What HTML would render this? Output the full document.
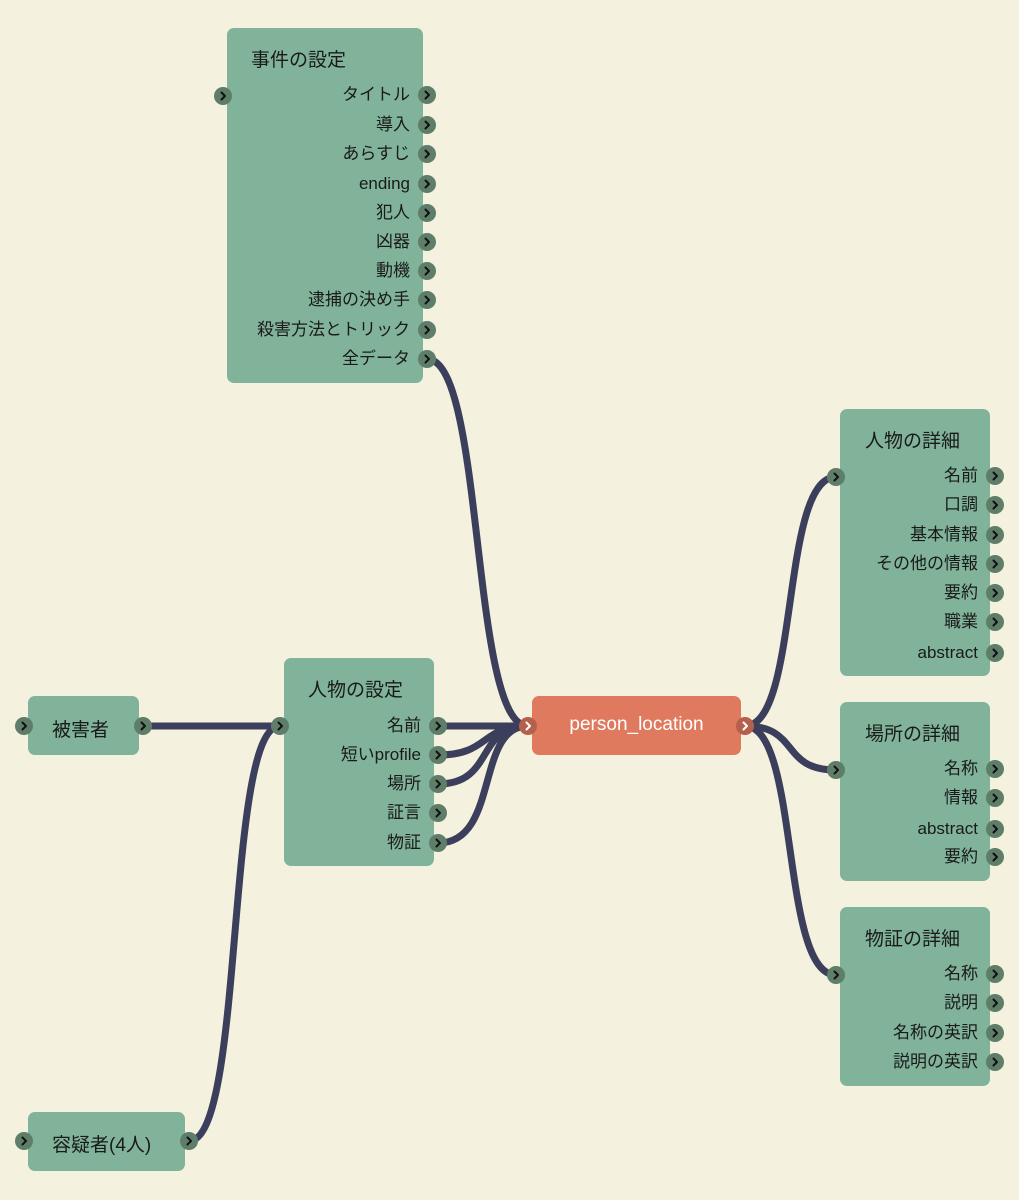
<!DOCTYPE html>
<html><head><meta charset="utf-8"><style>
body{margin:0;width:1019px;height:1200px;background:#f4f1df;position:relative;overflow:hidden;font-family:"Liberation Sans","Noto Sans CJK JP",sans-serif;color:#1a1a1a}
.n{position:absolute;background:#80b39a;border-radius:7px}
.t{position:absolute;font-size:19px}
.l{position:absolute;font-size:17px;text-align:right;white-space:nowrap;line-height:20px}
.p{position:absolute;width:18px;height:18px;border-radius:50%;background:#5e7e6a;z-index:3}
.p svg{position:absolute;left:0;top:0}
.p.o{background:#b5604c}
svg.e{position:absolute;left:0;top:0;z-index:2}
</style></head><body>
<div class="n" style="left:227px;top:28px;width:196px;height:355px"></div>
<div class="n" style="left:840px;top:409px;width:150px;height:267px"></div>
<div class="n" style="left:840px;top:702px;width:150px;height:179px"></div>
<div class="n" style="left:840px;top:907px;width:150px;height:179px"></div>
<div class="n" style="left:284px;top:658px;width:150px;height:208px"></div>
<div class="n" style="left:532px;top:696px;width:209px;height:59px;background:#e07a5f"></div>
<div class="n" style="left:28px;top:696px;width:111px;height:59px"></div>
<div class="n" style="left:28px;top:1112px;width:157px;height:59px"></div>
<svg class="e" width="1019" height="1200"><g fill="none" stroke="#3c3f5c" stroke-width="7" stroke-linecap="round">
<path d="M427 359 C485 359 470 726 528 726"/>
<path d="M143 726 L280 726"/>
<path d="M189 1141 C245 1141 225 726 280 726"/>
<path d="M438 726 L528 726"/>
<path d="M438 755 C490 755 480 726 528 726"/>
<path d="M438 784 C495 784 475 726 528 726"/>
<path d="M438 843 C500 843 475 726 528 726"/>
<path d="M745 726 C800 726 780 477 836 477"/>
<path d="M745 726 C800 726 780 770 836 770"/>
<path d="M745 726 C800 726 780 975 836 975"/>
</g></svg>
<div class="t" style="left:251px;top:45px">事件の設定</div>
<div class="t" style="left:865px;top:426px">人物の詳細</div>
<div class="t" style="left:865px;top:719px">場所の詳細</div>
<div class="t" style="left:865px;top:924px">物証の詳細</div>
<div class="t" style="left:308px;top:675px">人物の設定</div>
<div class="t" style="left:532px;top:714px;width:209px;text-align:center;color:#fff">person_location</div>
<div class="t" style="left:52px;top:715px">被害者</div>
<div class="t" style="left:52px;top:1130px">容疑者(4人)</div>
<div id="c"></div>
<script>
var c=document.getElementById('c'),h='';
function port(x,y,o){h+='<div class="p'+(o?' o':'')+'" style="left:'+(x-9)+'px;top:'+(y-9)+'px"><svg width="18" height="18"><path d="M7.5 5.5 L11 9 L7.5 12.5" fill="none" stroke="'+(o?'#fff':'#111')+'" stroke-width="2" stroke-linecap="round" stroke-linejoin="round"/></svg></div>';}
function labs(rx,px,ys,ls){ys.forEach(function(y,i){h+='<div class="l" style="right:'+(1019-rx)+'px;top:'+(y-10)+'px">'+ls[i]+'</div>';port(px,y);});}
port(223,96);
labs(410,427,[95,125,154,184,213,242,271,300,330,359],['タイトル','導入','あらすじ','ending','犯人','凶器','動機','逮捕の決め手','殺害方法とトリック','全データ']);
port(836,477);labs(978,995,[476,505,535,564,593,622,653],['名前','口調','基本情報','その他の情報','要約','職業','abstract']);
port(836,770);labs(978,995,[769,798,829,857],['名称','情報','abstract','要約']);
port(836,975);labs(978,995,[974,1003,1033,1062],['名称','説明','名称の英訳','説明の英訳']);
port(280,726);labs(421,438,[726,755,784,813,843],['名前','短いprofile','場所','証言','物証']);
port(528,726,1);port(745,726,1);
port(24,726);port(143,726);port(24,1141);port(189,1141);
c.innerHTML=h;
</script>
</body></html>
